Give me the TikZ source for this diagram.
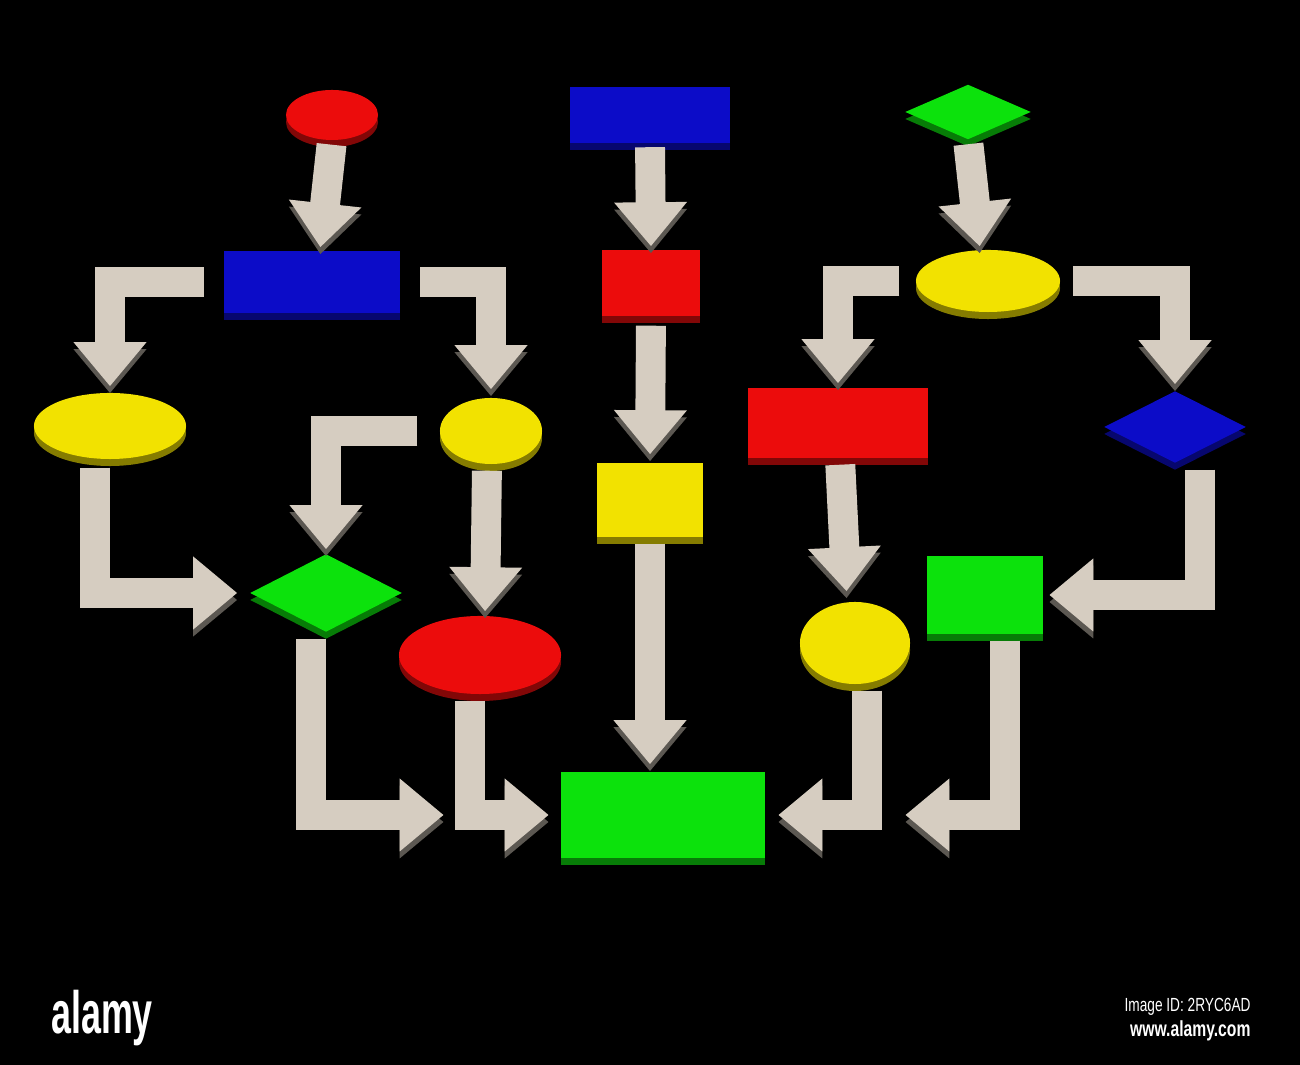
\documentclass[tikz,border=0pt]{standalone}
\usepackage{fontspec}
\setsansfont{Liberation Sans}
\usetikzlibrary{shapes.geometric,arrows.meta,shadows}

\definecolor{fcred}{RGB}{236,12,12}
\definecolor{fcblue}{RGB}{12,12,200}
\definecolor{fcgreen}{RGB}{12,226,12}
\definecolor{fcyellow}{RGB}{242,226,0}
\definecolor{arrowc}{RGB}{214,205,193}
\definecolor{arrowsh}{RGB}{92,88,82}

\tikzset{
  piece/.style={inner sep=0pt, draw=none, fill=#1,
    drop shadow={shadow xshift=0pt, shadow yshift=-0.07cm, fill=#1!55!black, opacity=1}},
  flow/.style={draw=arrowc, line width=8.5pt, line join=miter,
    -{Triangle[length=0.44cm,width=0.70cm]},
    preaction={draw=arrowsh, transform canvas={yshift=-0.07cm}}}
}

\begin{document}
\begin{tikzpicture}[x=0.01cm,y=-0.01cm]

      \useasboundingbox (0,0) rectangle (1300,1065);
      \fill[black] (0,0) rectangle (1300,1065);

      % the shapes
      \begin{scope}
        \node[piece=fcred,ellipse,minimum width=0.92cm,minimum height=0.50cm] (topoval) at (332,115) {};
        \node[piece=fcblue,minimum width=1.60cm,minimum height=0.55cm] (toprect) at (650,115) {};
        \node[piece=fcgreen,diamond,minimum width=1.26cm,minimum height=0.55cm] (topdia) at (968,112) {};
        \node[piece=fcblue,minimum width=1.75cm,minimum height=0.62cm] (leftrect) at (312,282) {};
        \node[piece=fcred,minimum width=0.98cm,minimum height=0.66cm] (midsq) at (651,283) {};
        \node[piece=fcyellow,ellipse,minimum width=1.44cm,minimum height=0.62cm] (rightoval) at (988,281) {};
        \node[piece=fcyellow,ellipse,minimum width=1.52cm,minimum height=0.66cm] (faroval) at (110,426) {};
        \node[piece=fcyellow,ellipse,minimum width=1.02cm,minimum height=0.66cm] (smalloval) at (491,431) {};
        \node[piece=fcyellow,minimum width=1.06cm,minimum height=0.74cm] (midyel) at (650,500) {};
        \node[piece=fcred,minimum width=1.80cm,minimum height=0.70cm] (redrect) at (838,423) {};
        \node[piece=fcblue,diamond,minimum width=1.42cm,minimum height=0.72cm] (bluedia) at (1175,427) {};
        \node[piece=fcgreen,diamond,minimum width=1.52cm,minimum height=0.78cm] (greendia) at (326,593) {};
        \node[piece=fcred,ellipse,minimum width=1.62cm,minimum height=0.78cm] (redoval) at (480,655) {};
        \node[piece=fcyellow,ellipse,minimum width=1.10cm,minimum height=0.82cm] (yelcirc) at (855,643) {};
        \node[piece=fcgreen,minimum width=1.15cm,minimum height=0.78cm] (greensq) at (985,595) {};
        \node[piece=fcgreen,minimum width=2.03cm,minimum height=0.86cm] (bottom) at (663,815) {};
      \end{scope}

      % the arrows
      \begin{scope}[shorten <=0.04cm]
        \draw[flow,shorten >=0.03cm] (topoval.south) -- ([xshift=0.08cm]leftrect.north);
        \draw[flow,shorten >=0.03cm] (toprect.south) -- (midsq.north);
        \draw[flow,shorten >=0.03cm] (topdia.south) -- ([xshift=-0.08cm]rightoval.north);
        \draw[flow,shorten <=0.2cm,shorten >=0.06cm] (leftrect.west) -| (faroval.north);
        \draw[flow,shorten <=0.2cm,shorten >=0.08cm] (leftrect.east) -| (smalloval.north);
        \draw[flow,shorten <=0.09cm,shorten >=0.08cm] (midsq.south) -- (midyel.north);
        \draw[flow,shorten <=0.16cm,shorten >=0.04cm] (rightoval.west) -| (redrect.north);
        \draw[flow,shorten <=0.12cm,shorten >=0.06cm] (rightoval.east) -| (bluedia.north);
        \draw[flow,shorten <=0.08cm,shorten >=0.12cm] ([xshift=-0.15cm]faroval.south) |- (greendia.west);
        \draw[flow,shorten <=0.22cm,shorten >=0.04cm] (smalloval.west) -| (greendia.north);
        \draw[flow,shorten <=0.06cm,shorten >=0.04cm] ([xshift=-0.04cm]smalloval.south) -- ([xshift=0.05cm]redoval.north);
        \draw[flow,shorten <=0.06cm,shorten >=0.07cm] (midyel.south) -- (midyel.south |- bottom.north);
        \draw[flow,shorten <=0.06cm,shorten >=0.1cm] ([xshift=0.02cm]redrect.south) -- ([xshift=-0.08cm]yelcirc.north);
        \draw[flow,shorten <=0.06cm,shorten >=0.06cm] ([xshift=0.25cm]bluedia.south) |- (greensq.east);
        \draw[flow,shorten <=0.06cm,shorten >=1.17cm] ([xshift=-0.15cm]greendia.south) |- (bottom.west);
        \draw[flow,shorten <=0.06cm,shorten >=0.12cm] ([xshift=-0.1cm]redoval.south) |- (bottom.west);
        \draw[flow,shorten <=0.06cm,shorten >=0.13cm] ([xshift=0.12cm]yelcirc.south) |- (bottom.east);
        \draw[flow,shorten <=0.06cm,shorten >=1.40cm] ([xshift=0.2cm]greensq.south) |- (bottom.east);
      \end{scope}

      % footer
      \node[white,xscale=0.6,font=\sffamily\bfseries\fontsize{17pt}{17pt}\selectfont] (logo) at (102,1018) {alamy};
      \node[white,anchor=east,inner sep=0pt,xscale=0.72,font=\sffamily\fontsize{5.4pt}{6pt}\selectfont] (imgid) at (1251,1007) {Image ID: 2RYC6AD};
      \node[white,anchor=east,inner sep=0pt,xscale=0.72,font=\sffamily\bfseries\fontsize{6.2pt}{7pt}\selectfont] (site) at (1251,1031) {www.alamy.com};

\end{tikzpicture}
\end{document}
